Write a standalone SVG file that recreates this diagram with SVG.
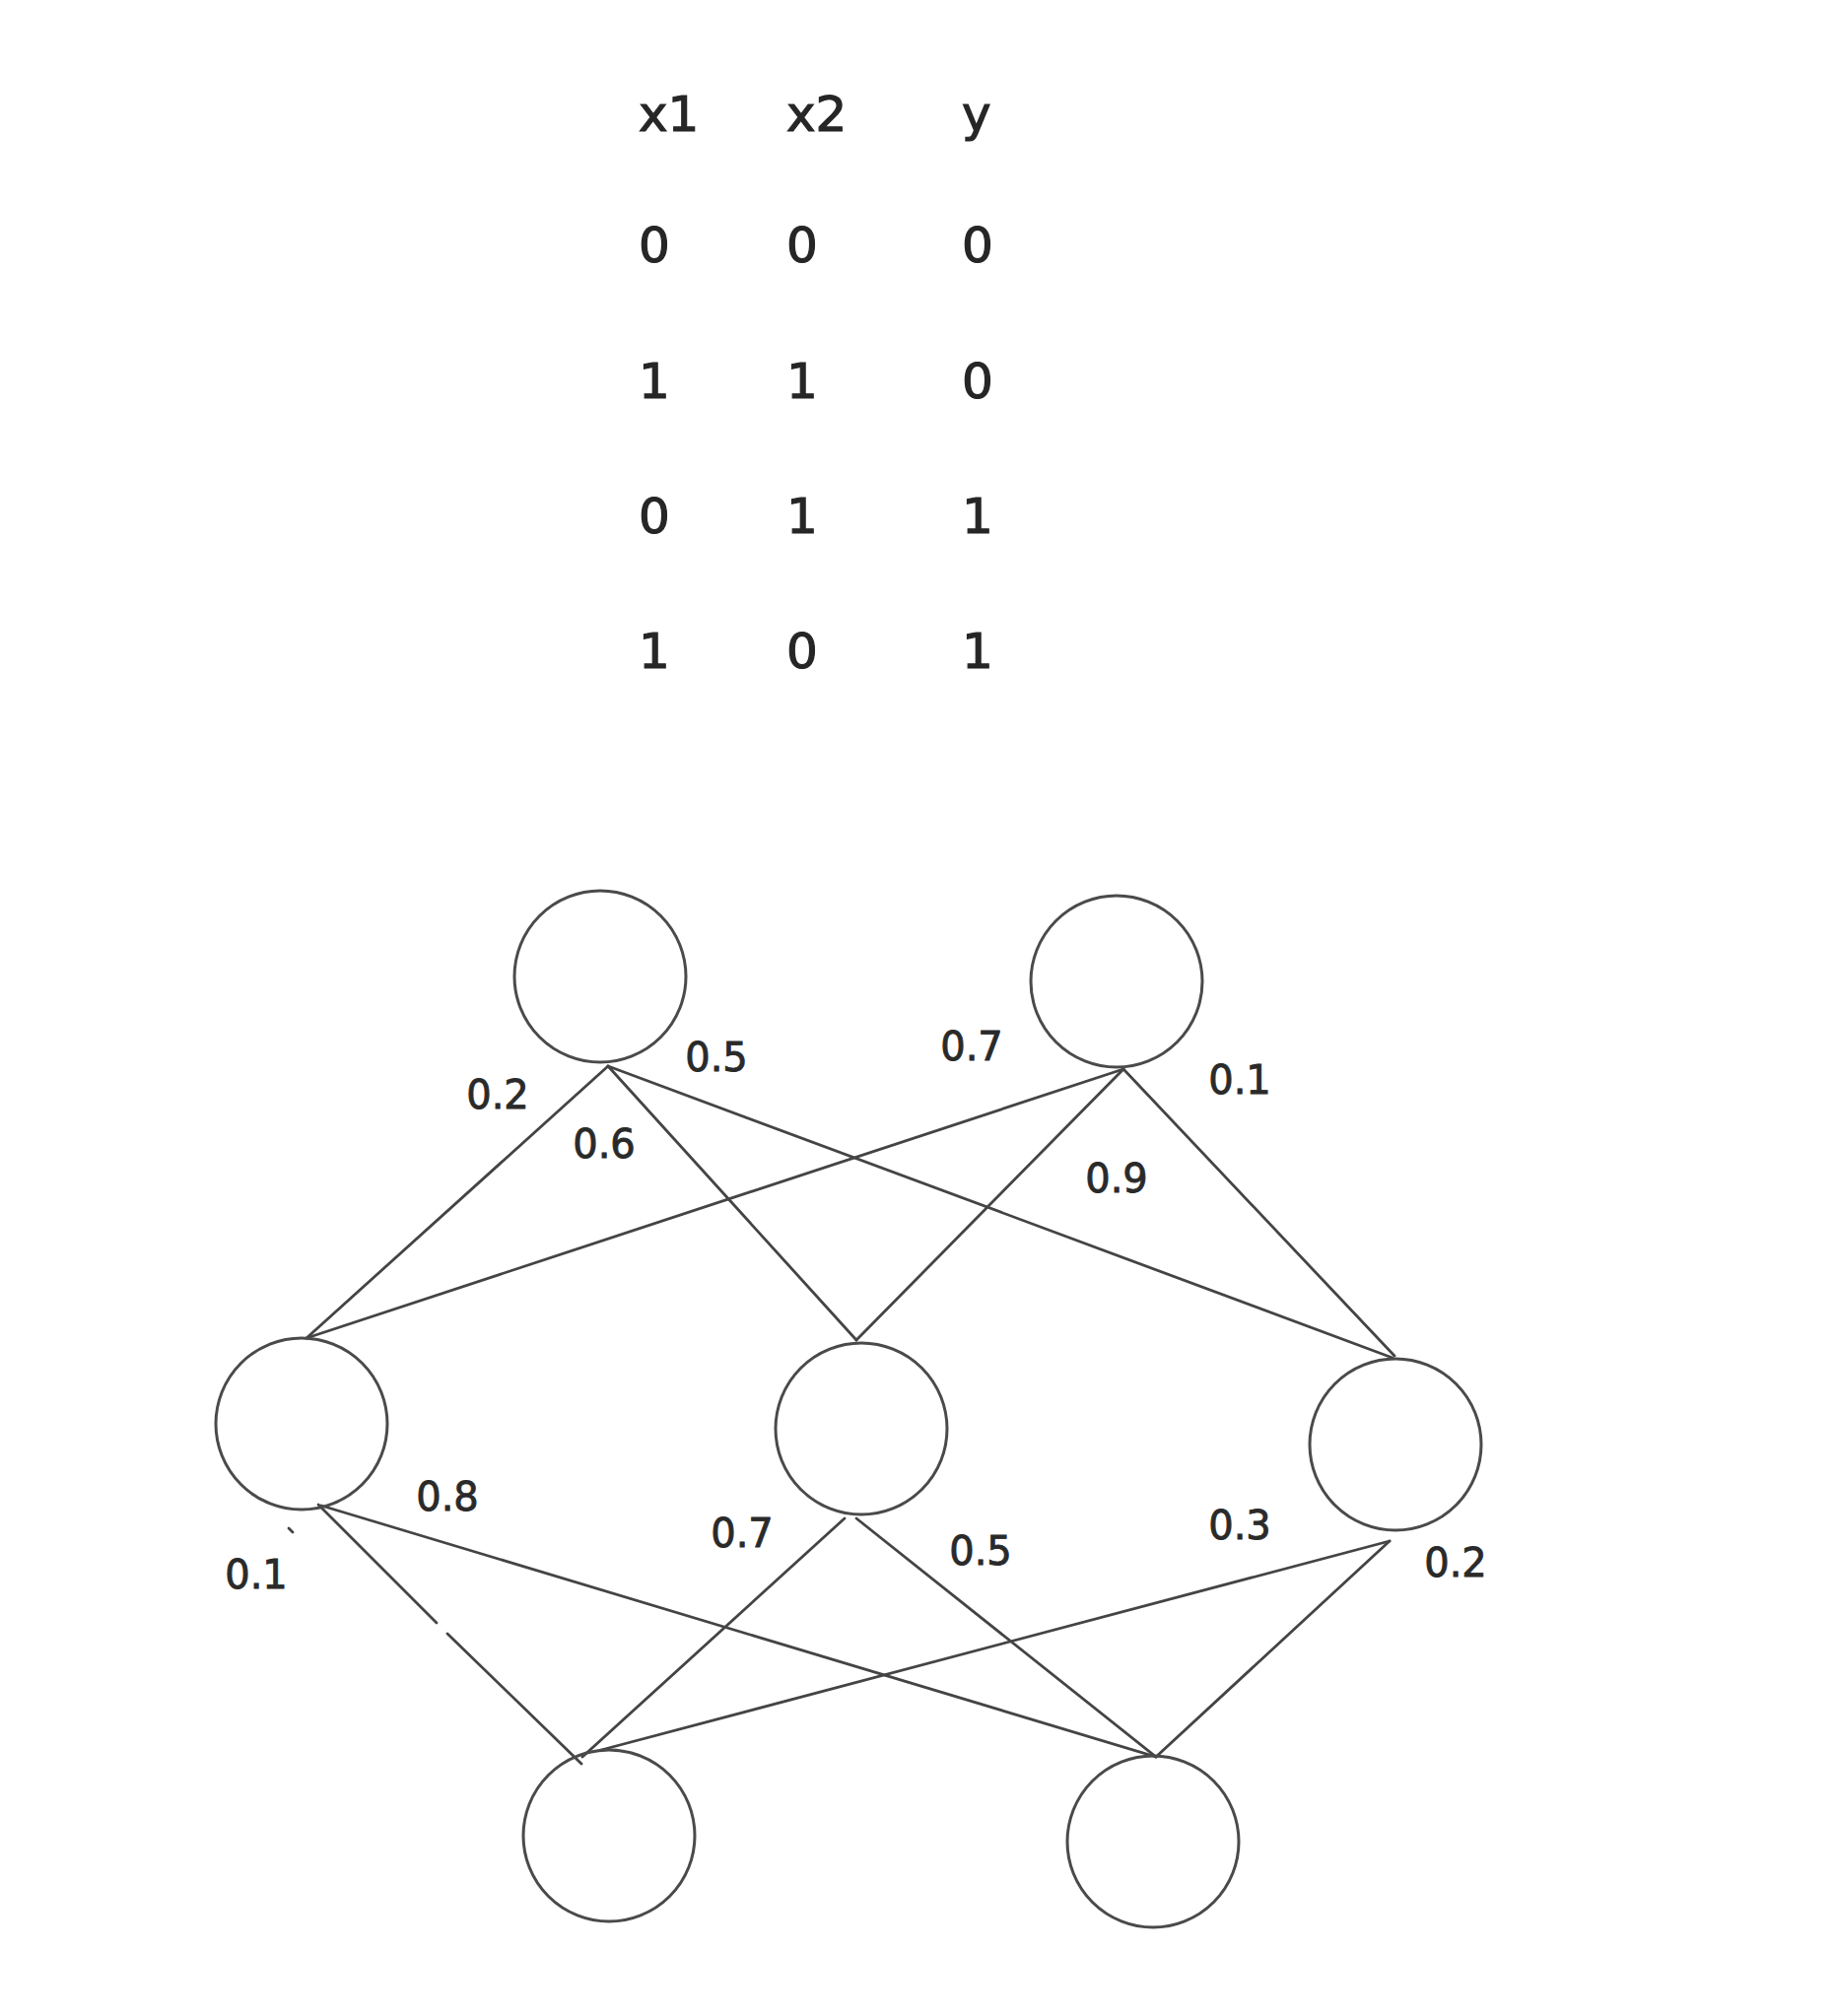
<svg xmlns="http://www.w3.org/2000/svg" width="1861" height="2046" viewBox="0 0 1861 2046">
<style>
.tbl{font-family:"DejaVu Sans","Liberation Sans",sans-serif;font-size:50px;fill:#262626;stroke:#262626;stroke-width:1.2}
.lbl{font-family:"DejaVu Sans","Liberation Sans",sans-serif;font-size:40px;fill:#2a2a2a;stroke:#2a2a2a;stroke-width:0.9;text-anchor:middle}
.node{fill:none;stroke:#4a4a4a;stroke-width:3}
.edge{stroke:#444;stroke-width:2.8;fill:none;stroke-linecap:round}
</style>
<rect width="1861" height="2046" fill="#fff"/>
<g id="table">
<text class="tbl" x="648" y="133">x1</text>
<text class="tbl" x="798" y="133">x2</text>
<text class="tbl" x="976" y="133">y</text>
<text class="tbl" x="648" y="266">0</text>
<text class="tbl" x="798" y="266">0</text>
<text class="tbl" x="976" y="266">0</text>
<text class="tbl" x="648" y="404">1</text>
<text class="tbl" x="798" y="404">1</text>
<text class="tbl" x="976" y="404">0</text>
<text class="tbl" x="648" y="541">0</text>
<text class="tbl" x="798" y="541">1</text>
<text class="tbl" x="976" y="541">1</text>
<text class="tbl" x="648" y="678">1</text>
<text class="tbl" x="798" y="678">0</text>
<text class="tbl" x="976" y="678">1</text>
</g>
<g id="connectors">
<line class="edge" x1="617" y1="1082" x2="311" y2="1358"/>
<line class="edge" x1="617" y1="1082" x2="869" y2="1360"/>
<line class="edge" x1="617" y1="1082" x2="1413" y2="1378"/>
<line class="edge" x1="1140" y1="1085" x2="311" y2="1358"/>
<line class="edge" x1="1140" y1="1085" x2="869" y2="1360"/>
<line class="edge" x1="1140" y1="1085" x2="1415" y2="1376"/>
<line class="edge" x1="323" y1="1527" x2="443" y2="1647"/>
<line class="edge" x1="454" y1="1658" x2="590" y2="1790"/>
<line class="edge" x1="326" y1="1528" x2="1173" y2="1783"/>
<line class="edge" x1="857" y1="1541" x2="591" y2="1783"/>
<line class="edge" x1="869" y1="1541" x2="1173" y2="1783"/>
<line class="edge" x1="1410" y1="1564" x2="610" y2="1776"/>
<line class="edge" x1="1410" y1="1564" x2="1173" y2="1783"/>
<line class="edge" x1="293" y1="1551" x2="297" y2="1555" stroke-width="2"/>
</g>
<g id="n_in1"><circle class="node" cx="609" cy="991" r="87"/></g>
<g id="n_in2"><circle class="node" cx="1133" cy="996" r="87"/></g>
<g id="n_h1"><circle class="node" cx="306" cy="1445" r="87"/></g>
<g id="n_h2"><circle class="node" cx="874" cy="1450" r="87"/></g>
<g id="n_h3"><circle class="node" cx="1416" cy="1466" r="87"/></g>
<g id="n_out1"><circle class="node" cx="618" cy="1863" r="87"/></g>
<g id="n_out2"><circle class="node" cx="1170" cy="1869" r="87"/></g>
<g id="labels">
<text class="lbl" x="505" y="1125">0.2</text>
<text class="lbl" x="727" y="1087">0.5</text>
<text class="lbl" x="613" y="1175">0.6</text>
<text class="lbl" x="986" y="1076">0.7</text>
<text class="lbl" x="1258" y="1110">0.1</text>
<text class="lbl" x="1133" y="1210">0.9</text>
<text class="lbl" x="454" y="1533">0.8</text>
<text class="lbl" x="260" y="1612">0.1</text>
<text class="lbl" x="753" y="1570">0.7</text>
<text class="lbl" x="995" y="1588">0.5</text>
<text class="lbl" x="1258" y="1562">0.3</text>
<text class="lbl" x="1477" y="1600">0.2</text>
</g>
</svg>
